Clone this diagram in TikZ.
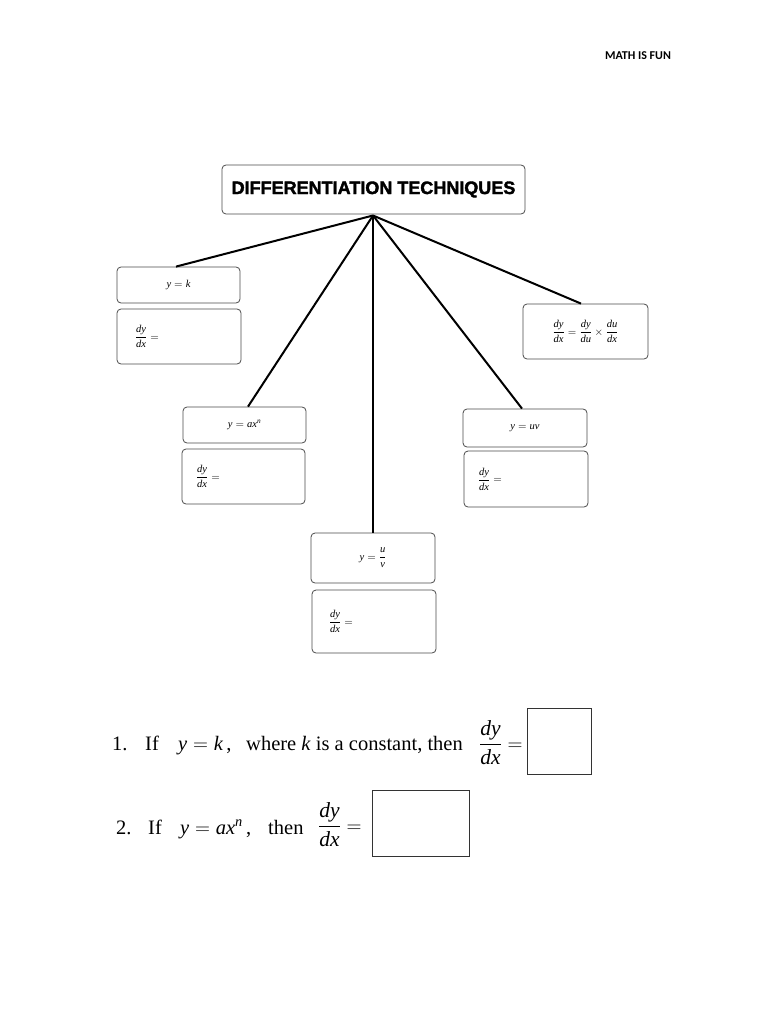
\documentclass[tikz,border=0pt]{standalone}
\usepackage{amsmath}
\usepackage{fontspec}
\setmainfont{Liberation Serif}
\newfontfamily\titlefont[BoldFeatures={FakeBold=2}]{Liberation Sans}
\newfontfamily\hdrfont{Carlito}
\newcommand{\vi}[1]{\textit{#1}}
\newcommand{\dydx}{\dfrac{\vi{dy}}{\vi{dx}}}
\begin{document}
\begin{tikzpicture}[x=1pt,y=-1pt,
  box/.style={draw=black!70, line width=0.8pt, rounded corners=4pt, inner sep=0pt,
    font=\fontsize{10.5}{12}\selectfont},
  ansbox/.style={text width=#1, align=left},
  conn/.style={draw=black, line width=2pt},
  big/.style={font=\fontsize{20.5}{24}\selectfont, inner sep=0pt, anchor=base west},
  bigfrac/.style={font=\fontsize{21.5}{25}\selectfont, inner sep=0pt, anchor=base west},
  blank/.style={draw=black!80, line width=0.9pt, inner sep=0pt}]
\useasboundingbox (0,0) rectangle (768,1024);
\fill[white] (0,0) rectangle (768,1024);

\node[font=\hdrfont\bfseries\fontsize{12}{14}\selectfont, inner sep=0pt] (hdr) at (638,56) {MATH IS FUN};

\node[box, minimum width=303pt, minimum height=49pt, font=\titlefont\bfseries\fontsize{18}{20}\selectfont] (title) at (373.5,189.5) {DIFFERENTIATION TECHNIQUES};

% y = k
\node[box, minimum width=123pt, minimum height=36pt] (yk) at (178.5,285) {$\vi{y}=\vi{k}$};
\node[box, minimum width=124pt, minimum height=55pt, ansbox=88pt] (dk) at (179,336.5) {$\dydx=$};

% chain rule
\node[box, minimum width=125pt, minimum height=55pt] (chain) at (585.5,331.5) {$\dydx=\dfrac{\vi{dy}}{\vi{du}}\times\dfrac{\vi{du}}{\vi{dx}}$};

% y = ax^n
\node[box, minimum width=123pt, minimum height=36pt] (yax) at (244.5,425) {$\vi{y}=\vi{ax}^{\vi{n}}$};
\node[box, minimum width=123pt, minimum height=55pt, ansbox=95pt] (dax) at (243.5,476.5) {$\dydx=$};

% y = uv
\node[box, minimum width=124pt, minimum height=38pt] (yuv) at (525,428) {$\vi{y}=\vi{uv}$};
\node[box, minimum width=124pt, minimum height=56pt, ansbox=96pt] (duv) at (526,479) {$\dydx=$};

% y = u/v
\node[box, minimum width=124pt, minimum height=50pt] (yq) at (373,558) {$\vi{y}=\dfrac{\vi{u}}{\vi{v}}$};
\node[box, minimum width=124pt, minimum height=63pt, ansbox=90pt] (dq) at (374,621.5) {$\dydx=$};

% connectors
\coordinate (hub) at (373,215.5);
\draw[conn] (hub) -- (yk.north -| 176,0);
\draw[conn] (hub) -- (chain.north -| 581,0);
\draw[conn] (hub) -- (yax.north -| 248,0);
\draw[conn] (hub) -- (yuv.north -| 522,0);
\draw[conn] (hub) -- (yq.north -| hub);

% questions
\node[big] (n1) at (112,750) {1.};
\node[big] (if1) at (145,750) {If};
\node[big] (eq1) at (178,750) {$\vi{y}=\vi{k}$\,,};
\node[big] (w1) at (246,750) {where \vi{k} is a constant, then};
\node[bigfrac] (f1) at (479,750) {$\dydx=$};
\node[blank, minimum width=64pt, minimum height=66pt] (b1) at (559,741) {};

\node[big] (n2) at (116,834) {2.};
\node[big] (if2) at (148,834) {If};
\node[big] (eq2) at (180,834) {$\vi{y}=\vi{ax}^{\vi{n}}$\,,};
\node[big] (w2) at (268,834) {then};
\node[bigfrac] (f2) at (318,832) {$\dydx=$};
\node[blank, minimum width=97pt, minimum height=66pt] (b2) at (420.5,823) {};
\end{tikzpicture}
\end{document}
